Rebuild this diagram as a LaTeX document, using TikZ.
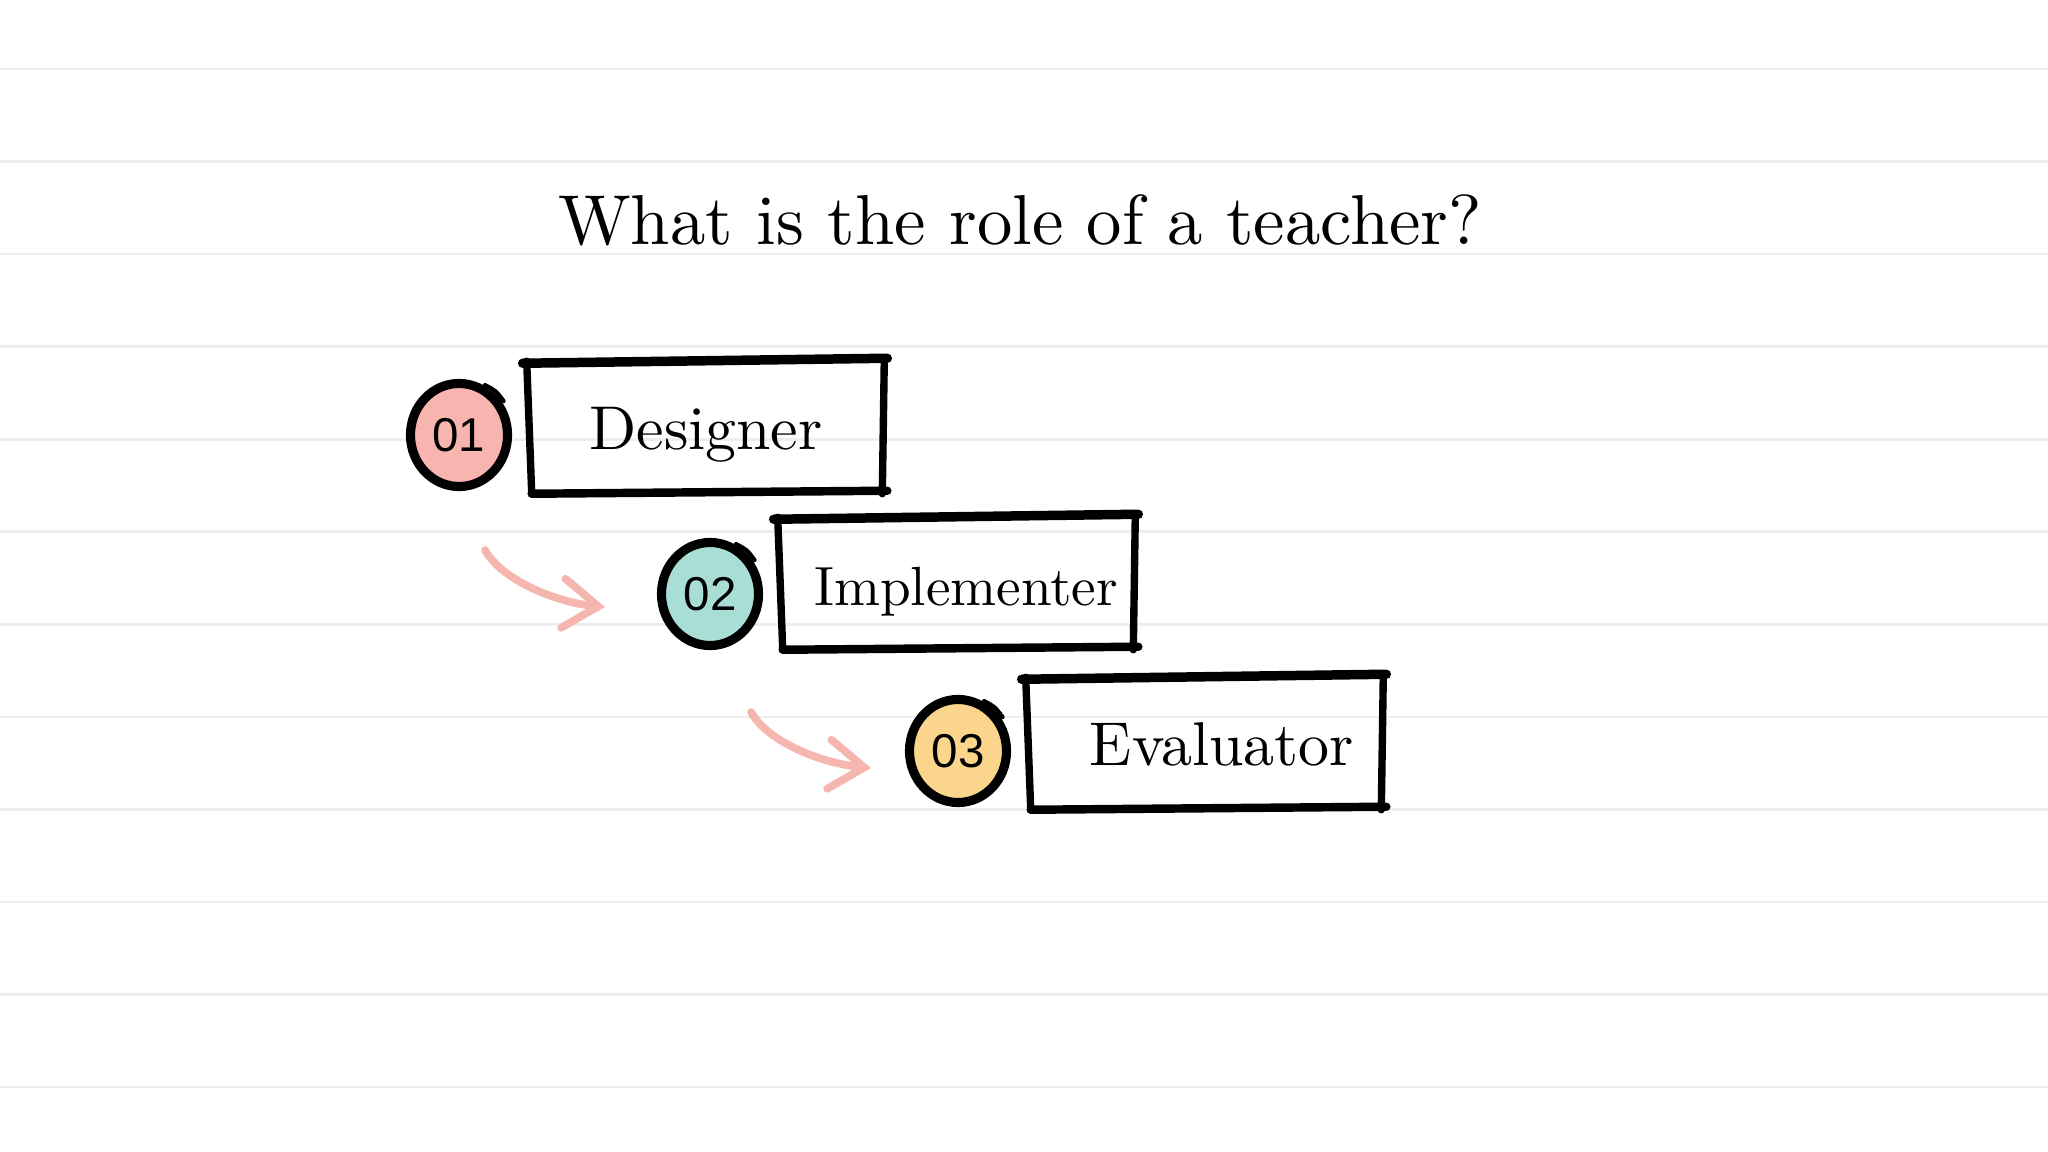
\documentclass[tikz,border=0pt]{standalone}
\usepackage{fontspec}
\usetikzlibrary{arrows.meta,shapes.geometric}
\setmainfont{lmroman10-regular.otf}
\newfontfamily\numfont{Liberation Sans}

\definecolor{rulegray}{HTML}{EEEEEE}
\definecolor{rosefill}{HTML}{F8B4AE}
\definecolor{mintfill}{HTML}{A8DED6}
\definecolor{sandfill}{HTML}{FBD58B}
\definecolor{arrowpink}{HTML}{F6B6B0}

\tikzset{
  ruleline/.style={line width=0.75pt, rulegray},
  numring/.style={ellipse, draw=black, line width=2.6pt, minimum width=0.97cm,
    minimum height=1.03cm, inner sep=0pt, font=\numfont\fontsize{13.5}{14}\selectfont},
  rolebox/.style={minimum width=3.53cm, minimum height=1.3cm, inner sep=0pt,
    text height=13.6pt, text depth=0pt, font=\fontsize{17.6}{20}\selectfont},
  sketchline/.style={line width=2.1pt, line cap=round, line join=round},
  pinkarrow/.style={arrowpink, line width=2.2pt, line cap=round,
    -{Straight Barb[length=10pt,width=14pt,line cap=round]}},
}

% rough hand drawn frame round a node
\newcommand\sketchbox[1]{%
  \draw[sketchline, line width=2.7pt] ([shift={(-6,3)}]#1.north west) -- ([shift={(4,-2)}]#1.north east);
  \draw[sketchline] ([shift={(-2,1)}]#1.north west) -- ([shift={(3,1)}]#1.south west);
  \draw[sketchline] ([shift={(1,-2)}]#1.north east) -- ([shift={(-1,2)}]#1.south east);
  \draw[sketchline, line width=2.4pt] ([shift={(3,2)}]#1.south west) -- ([shift={(4,-1)}]#1.south east);
}
% little overshoot where the ring was closed
\newcommand\ringtail[1]{%
  \draw[sketchline, line width=1.2pt] ([shift={(0,-1)}]#1.62) .. controls ([shift={(3,-1)}]#1.52) .. ([shift={(3,1)}]#1.40);
}

\begin{document}
\begin{tikzpicture}[x=0.01cm, y=-0.01cm]
  \useasboundingbox (0,0) rectangle (2048,1152);
  \fill[white] (0,0) rectangle (2048,1152);

  % ruled paper
  \foreach \k in {0,...,11}
    \draw[ruleline] (0,{69+92.55*\k}) -- (2048,{69+92.55*\k});

  \node[anchor=base, font=\fontsize{20.1}{24}\selectfont] (title) at (1020,245) {What is the role of a teacher?};

  % roles
  \node[rolebox] (b1) at (706,426) {Designer};
  \node[rolebox, font=\fontsize{15.7}{18}\selectfont] (b2) at (957,582) {\hspace*{0.18cm}Implementer};
  \node[rolebox] (b3) at (1205,742) {\hspace*{0.34cm}Evaluator};
  \sketchbox{b1}
  \sketchbox{b2}
  \sketchbox{b3}

  \node[numring, fill=rosefill] (c1) at (459,435) {01};
  \node[numring, fill=mintfill] (c2) at (710,594) {02};
  \node[numring, fill=sandfill] (c3) at (958,751) {03};
  \ringtail{c1}
  \ringtail{c2}
  \ringtail{c3}

  % steps
  \draw[pinkarrow] ([shift={(26,115)}]c1.center) .. controls +(18,32) and +(-45,-4) .. ([shift={(-105,13)}]c2.center);
  \draw[pinkarrow] ([shift={(41,118)}]c2.center) .. controls +(18,32) and +(-45,-4) .. ([shift={(-87,17)}]c3.center);
\end{tikzpicture}
\end{document}
